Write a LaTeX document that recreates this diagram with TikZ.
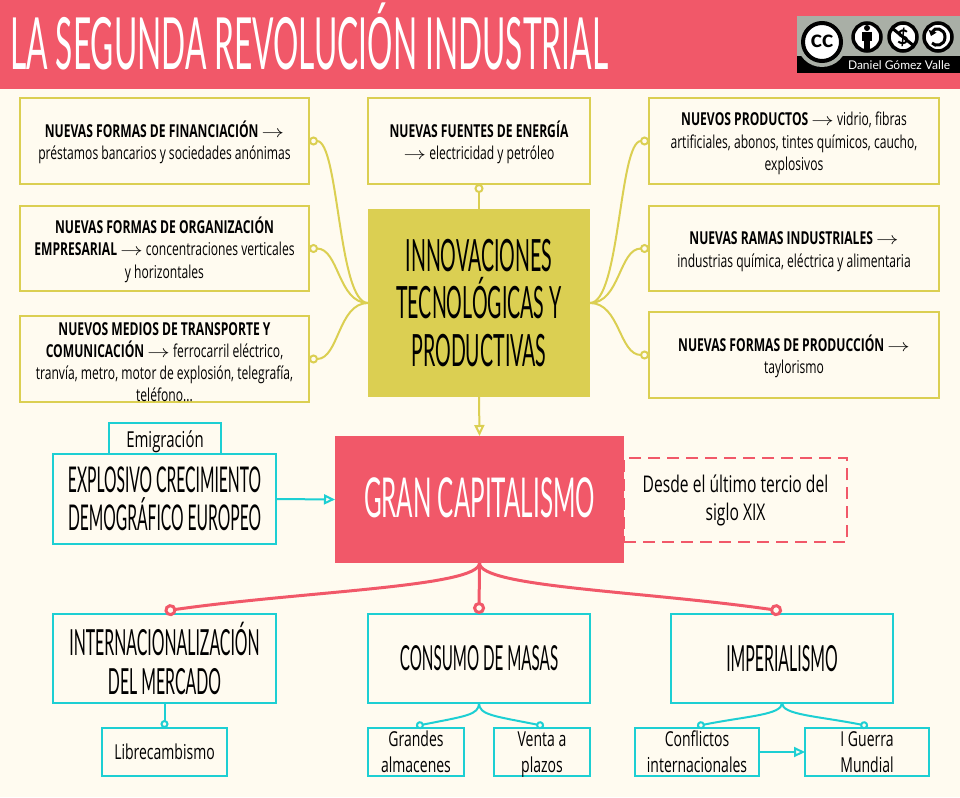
\documentclass[tikz,border=0pt]{standalone}
\usepackage{amsmath,amssymb}
\usepackage{fontspec}
\usepackage{tikz}
\usetikzlibrary{arrows.meta, positioning, calc}
\newfontfamily\headfont[FakeStretch=0.44]{Lato}
\newfontfamily\bodyfont[FakeStretch=0.68]{Open Sans}
\newfontfamily\badgefont{Lato}
\newcommand{\bajar}{\rule{0pt}{19pt}}
\newcommand{\flecha}{\scalebox{1.3}[1]{$\rightarrow$}}
\definecolor{paper}{HTML}{FFFBF0}
\definecolor{rojo}{HTML}{F15869}
\definecolor{amarillo}{HTML}{DBCF52}
\definecolor{turquesa}{HTML}{1DCFD3}
\definecolor{gris}{HTML}{A9AFA6}
\tikzset{
    base/.style={inner sep=0pt, outer sep=0pt, align=center, text=black},
    yellowbox/.style={base, draw=amarillo, line width=2pt, fill=paper, font=\bodyfont\fontsize{17.8}{22.5}\selectfont},
    tealbox/.style={base, draw=turquesa, line width=2pt, fill=paper, font=\headfont\fontsize{36}{38.5}\selectfont},
    tealsub/.style={base, draw=turquesa, line width=2pt, fill=paper, font=\bodyfont\fontsize{20.6}{26}\selectfont},
    yellowline/.style={draw=amarillo, line width=2pt},
    tealline/.style={draw=turquesa, line width=2pt},
    redline/.style={draw=rojo, line width=3pt},
    dotY/.style={yellowline, -{Circle[open, fill=paper, length=9pt, width=9pt]}},
    dotT/.style={tealline, -{Circle[open, fill=paper, length=8pt, width=8pt]}},
    dotR/.style={redline, -{Circle[open, fill=paper, length=12pt, width=12pt]}},
    triY/.style={yellowline, -{Triangle[open, fill=paper, length=11pt, width=10pt]}},
    triT/.style={tealline, -{Triangle[open, fill=paper, length=11pt, width=10pt]}},
}
\begin{document}
\begin{tikzpicture}[x=1pt, y=-1pt]
\useasboundingbox (0,0) rectangle (960,797);
\fill[paper](0,0) rectangle (960,797);
\fill[rojo](0,0) rectangle (960,89);
\node[base, text=white, anchor=west, font=\headfont\fontsize{72}{72}\selectfont] (titulo) at (10,36) {LA SEGUNDA REVOLUCIÓN INDUSTRIAL};

% licence badge
\fill[black](797,16) rectangle (960,73);
\fill[gris](797,16) rectangle (960,56);
\fill[gris](822,42) circle (25);
\draw[black, line width=4pt, fill=white](822,42) circle (19);
\node[base, font=\badgefont\bfseries\fontsize{24}{24}\selectfont] (cc) at (822,41) {cc};
\foreach \px in {867,903,938}
{
    \draw[black, line width=3.5pt, fill=white](\px,37) circle (14);
}
\fill[black](867,28) circle (3);
\fill[black](862,32.5) rectangle (872,41);
\fill[black](864,41) rectangle (870,49);
\node[base, font=\badgefont\bfseries\fontsize{20}{20}\selectfont] (dolar) at (903,37) {\$};
\draw[black, line width=3pt](892,28)--(914,46);
\draw[black, line width=3pt, -{Triangle[length=5pt, width=8pt]}](932,43) .. controls (935,47) and (945,46) .. (945,37) .. controls (945,28) and (934,27) .. (931,36);
\node[base, text=white, anchor=west, font=\badgefont\fontsize{12}{12}\selectfont] (autor) at (848,65) {Daniel Gómez Valle};

% innovaciones
\node[yellowbox, minimum width=289pt, minimum height=86pt] (financiacion) at (164.5,141) {\bajar\textbf{NUEVAS FORMAS DE FINANCIACIÓN} \flecha\\préstamos bancarios y sociedades anónimas};
\node[yellowbox, minimum width=289pt, minimum height=85pt] (organizacion) at (164.5,248.5) {\bajar\textbf{NUEVAS FORMAS DE ORGANIZACIÓN}\\\textbf{EMPRESARIAL} \flecha\ concentraciones verticales\\y horizontales};
\node[yellowbox, minimum width=289pt, minimum height=86pt, font=\bodyfont\fontsize{17.8}{22}\selectfont] (transporte) at (164.5,359) {\bajar\textbf{NUEVOS MEDIOS DE TRANSPORTE Y}\\\textbf{COMUNICACIÓN} \flecha\ ferrocarril eléctrico,\\tranvía, metro, motor de explosión, telegrafía,\\teléfono...};
\node[yellowbox, minimum width=222pt, minimum height=86pt] (fuentes) at (479,141) {\bajar\textbf{NUEVAS FUENTES DE ENERGÍA}\\\flecha\ electricidad y petróleo};
\node[yellowbox, minimum width=290pt, minimum height=86pt] (productos) at (794,141) {\bajar\textbf{NUEVOS PRODUCTOS} \flecha\ vidrio, fibras\\artificiales, abonos, tintes químicos, caucho,\\explosivos};
\node[yellowbox, minimum width=290pt, minimum height=85pt] (ramas) at (794,248.5) {\bajar\textbf{NUEVAS RAMAS INDUSTRIALES} \flecha\\industrias química, eléctrica y alimentaria};
\node[yellowbox, minimum width=290pt, minimum height=86pt] (produccion) at (794,355) {\bajar\textbf{NUEVAS FORMAS DE PRODUCCIÓN} \flecha\\taylorismo};
\node[base, fill=amarillo, minimum width=222pt, minimum height=188pt, font=\headfont\fontsize{44.5}{47.5}\selectfont] (innovaciones) at (479,303) {INNOVACIONES\\TECNOLÓGICAS Y\\PRODUCTIVAS};

% gran capitalismo
\node[base, draw=rojo, line width=2pt, dash pattern=on 12pt off 7pt, fill=paper, minimum width=223pt, minimum height=84pt, font=\bodyfont\fontsize{23}{28}\selectfont] (desde) at (735.5,500) {\bajar Desde el último tercio del\\siglo XIX};
\node[base, fill=rojo, text=white, minimum width=289pt, minimum height=127pt, font=\headfont\fontsize{55}{55}\selectfont] (capitalismo) at (479.5,499.5) {\raisebox{3pt}{GRAN CAPITALISMO}};
\node[tealsub, minimum width=112pt, minimum height=31pt, font=\bodyfont\fontsize{22}{22}\selectfont] (emigracion) at (165,438.5) {\rule{0pt}{24pt}Emigración};
\node[tealbox, minimum width=223pt, minimum height=90pt, font=\headfont\fontsize{35.5}{38}\selectfont] (explosivo) at (164.5,499) {EXPLOSIVO CRECIMIENTO\\DEMOGRÁFICO EUROPEO};

% abajo
\node[tealbox, minimum width=223pt, minimum height=89pt] (mercado) at (164.5,658.5) {INTERNACIONALIZACIÓN\\DEL MERCADO};
\node[tealbox, minimum width=222pt, minimum height=89pt, font=\headfont\fontsize{34.5}{38}\selectfont] (consumo) at (479,658.5) {CONSUMO DE MASAS};
\node[tealbox, minimum width=222pt, minimum height=89pt] (imperialismo) at (782,658.5) {IMPERIALISMO};
\node[tealsub, minimum width=125pt, minimum height=48pt] (librecambismo) at (164.5,752) {Librecambismo};
\node[tealsub, minimum width=96pt, minimum height=48pt] (grandes) at (416,752) {Grandes\\almacenes};
\node[tealsub, minimum width=96pt, minimum height=48pt] (venta) at (542,752) {Venta a\\\smash{plazos}};
\node[tealsub, minimum width=124pt, minimum height=48pt] (conflictos) at (697,752) {Conflictos\\internacionales};
\node[tealsub, minimum width=124pt, minimum height=48pt] (guerra) at (867,752) {I Guerra\\Mundial};

% conectores
\foreach \nombre in {financiacion,organizacion,transporte}
{
    \draw[dotY](innovaciones.west) .. controls +(-30,0) and +(30,0) .. (\nombre.east);
}
\foreach \nombre in {productos,ramas,produccion}
{
    \draw[dotY](innovaciones.east) .. controls +(30,0) and +(-30,0) .. (\nombre.west);
}
\draw[dotY](innovaciones.north)--(fuentes.south);
\draw[triY](innovaciones.south)--(capitalismo.north);
\draw[triT](explosivo.east)--(capitalismo.west);
\draw[dotR](capitalismo.south) .. controls +(0,24) and +(140,-20) .. ([yshift=3pt]mercado.north);
\draw[dotR](capitalismo.south)--(consumo.north);
\draw[dotR](capitalismo.south) .. controls +(0,24) and +(-140,-20) .. ([yshift=3pt]imperialismo.north);
\draw[dotT](mercado.south)--(librecambismo.north);
\draw[dotT](consumo.south) .. controls +(0,12) and +(50,-10) .. ([yshift=2pt]grandes.north);
\draw[dotT](consumo.south) .. controls +(0,12) and +(-50,-10) .. ([xshift=2pt, yshift=2pt]venta.north);
\draw[dotT](imperialismo.south) .. controls +(0,12) and +(50,-10) .. ([yshift=2pt]conflictos.north);
\draw[dotT](imperialismo.south) .. controls +(0,12) and +(-50,-10) .. ([xshift=1pt, yshift=2pt]guerra.north);
\draw[triT](conflictos.east)--(guerra.west);
\end{tikzpicture}
\end{document}
